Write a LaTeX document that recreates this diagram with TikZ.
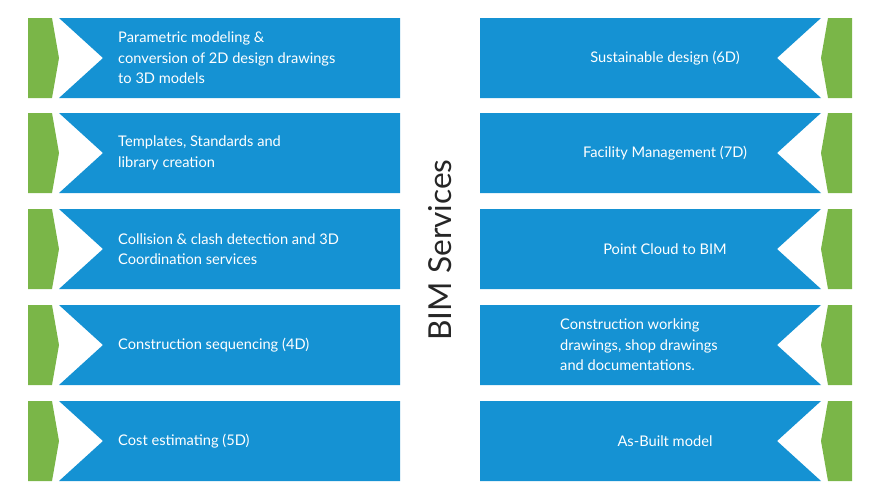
\documentclass[tikz,border=0pt]{standalone}
\usepackage{fontspec}
\setmainfont{Lato}
\definecolor{bimBlue}{HTML}{1592D3}
\definecolor{bimGreen}{HTML}{7AB648}
\tikzset{
  svcText/.style={text=white,font=\fontsize{12.5}{17.5}\selectfont,inner sep=0pt},
  leftText/.style={svcText,anchor=west,align=left},
  rightText/.style={svcText,align=center}
}
\begin{document}
\begin{tikzpicture}[x=0.03cm,y=-0.03cm]

\useasboundingbox (0,0) rectangle (880,502);

% rows: top edge of each band
\foreach \t [count=\i] in {18,113,209,305,401}{
	% left band
	\fill [bimGreen] (28,\t) -- (52,\t) -- (59,\t+40) -- (52,\t+80) -- (28,\t+80) -- cycle;
	\fill [bimBlue] (59,\t) -- (400,\t) -- (400,\t+80) -- (59,\t+80) -- (103,\t+40) -- cycle;
	% right band
	\fill [bimBlue] (480,\t) -- (821,\t) -- (777,\t+40) -- (821,\t+80) -- (480,\t+80) -- cycle;
	\fill [bimGreen] (852,\t) -- (828,\t) -- (821,\t+40) -- (828,\t+80) -- (852,\t+80) -- cycle;
	\coordinate (L\i) at (118,\t+40);
	\coordinate (R\i) at (665,\t+40);
}

\node [leftText] (param) at (L1) {Parametric modeling \&\\conversion of 2D design drawings\\to 3D models};
\node [leftText] (templ) at (L2) {Templates, Standards and\\library creation};
\node [leftText] (clash) at (L3) {Collision \& clash detection and 3D\\Coordination services};
\node [leftText] (seq) at (L4) {Construction sequencing (4D)};
\node [leftText] (cost) at (L5) {Cost estimating (5D)};

\node [rightText] (sust) at (R1) {Sustainable design (6D)};
\node [rightText] (facil) at (R2) {Facility Management (7D)};
\node [rightText] (cloud) at (R3) {Point Cloud to BIM};
\node [leftText] (shop) at (560,345) {Construction working\\drawings, shop drawings\\and documentations.};
\node [rightText] (asbuilt) at (R5) {As-Built model};

\node [rotate=90,font=\fontsize{27}{30}\selectfont,text=black!85] (title) at (440,250) {BIM Services};

\end{tikzpicture}
\end{document}
